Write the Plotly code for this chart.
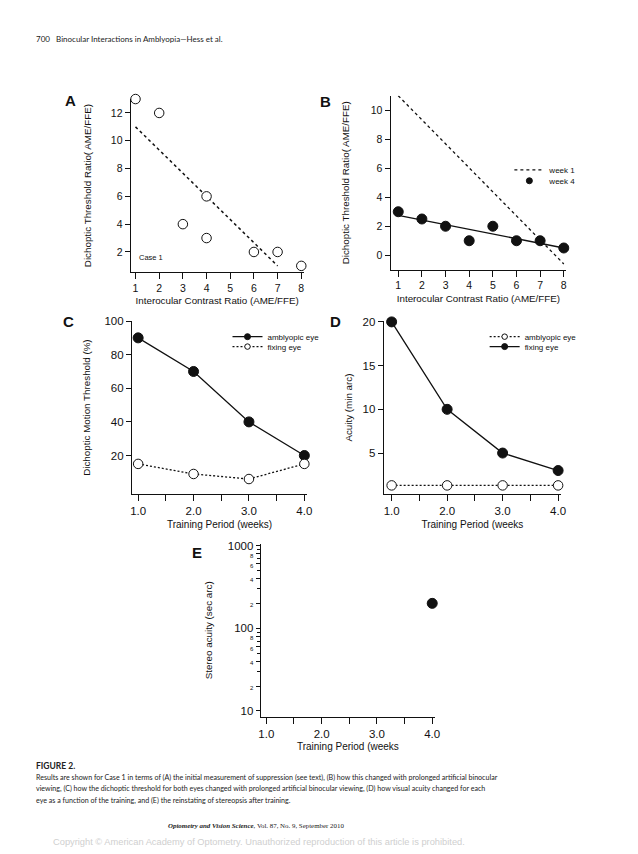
import plotly.graph_objects as go

W, H = 638, 854

# ---------------- data ----------------
# Panel A: initial measurement of suppression (Case 1)
a_ratio = [1, 2, 3, 4, 4, 6, 7, 8]
a_threshold = [13, 12, 4, 6, 3, 2, 2, 1]
a_fit_x = [1, 7]
a_fit_y = [11, 1]

# Panel B: after prolonged binocular viewing
b_ratio = [1, 2, 3, 4, 5, 6, 7, 8]
b_week4 = [3, 2.5, 2, 1, 2, 1, 1, 0.5]
b_week1_x = [1, 8]
b_week1_y = [11, -0.6]
b_fit_x = [1, 8]
b_fit_y = [2.75, 0.5]

# Panel C: dichoptic motion threshold (%)
weeks = [1, 2, 3, 4]
c_amblyopic = [90, 70, 40, 20]
c_fixing = [15, 9, 6, 15]

# Panel D: acuity (min arc)
d_amblyopic = [1.3, 1.3, 1.3, 1.3]
d_fixing = [20, 10, 5, 3]

# Panel E: stereo acuity (sec arc)
e_weeks = [4]
e_stereo = [200]

ratio_ticks = [1, 2, 3, 4, 5, 6, 7, 8]
week_ticks = [1, 2, 3, 4]
e_tickvals = [10, 20, 40, 60, 80, 100, 200, 400, 600, 800, 1000]
e_ticklabels = ["10", "2", "4", "6", "8", "100", "2", "4", "6", "8", "1000"]
e_minor = [30, 50, 70, 90, 300, 500, 700, 900]

# ---------------- helpers ----------------
FONT = "Liberation Sans, Arial, sans-serif"
INK = "#111111"


def dx(left, right):
    return [left / W, right / W]


def dy(top, bottom):
    return [1 - bottom / H, 1 - top / H]


def axis(tick_size=10.5, title_size=9.8, **kw):
    base = dict(
        showline=True, linecolor=INK, linewidth=1.3,
        ticks="outside", ticklen=5, tickwidth=1.2, tickcolor=INK,
        showgrid=False, zeroline=False,
        tickfont=dict(family=FONT, size=tick_size, color=INK),
        title_font=dict(family=FONT, size=title_size, color=INK),
    )
    base.update(kw)
    return base


open_marker = dict(symbol="circle", size=9.5, color="white", line=dict(color=INK, width=1))
filled_marker = dict(symbol="circle", size=10, color=INK, line=dict(color=INK, width=1))
leg_open = dict(symbol="circle", size=5.5, color="white", line=dict(color=INK, width=1))
leg_filled = dict(symbol="circle", size=6, color=INK, line=dict(color=INK, width=1))

fig = go.Figure()

# ---- Panel A ----
fig.add_trace(go.Scatter(x=a_fit_x, y=a_fit_y, mode="lines", xaxis="x", yaxis="y",
                         line=dict(color=INK, width=1.5, dash="3px,3px"), showlegend=False))
fig.add_trace(go.Scatter(x=a_ratio, y=a_threshold, mode="markers", xaxis="x", yaxis="y",
                         marker=open_marker, showlegend=False, cliponaxis=False))

# ---- Panel B ----
fig.add_trace(go.Scatter(x=b_week1_x, y=b_week1_y, mode="lines", xaxis="x2", yaxis="y2",
                         name="week 1", line=dict(color=INK, width=1.3, dash="3px,3px"),
                         legend="legend"))
fig.add_trace(go.Scatter(x=b_fit_x, y=b_fit_y, mode="lines", xaxis="x2", yaxis="y2",
                         line=dict(color=INK, width=1.4), showlegend=False))
fig.add_trace(go.Scatter(x=b_ratio, y=b_week4, mode="markers", xaxis="x2", yaxis="y2",
                         marker=filled_marker, showlegend=False, cliponaxis=False))
fig.add_trace(go.Scatter(x=[None], y=[None], mode="markers", xaxis="x2", yaxis="y2",
                         name="week 4", marker=leg_filled, legend="legend2"))

# ---- Panel C ----
fig.add_trace(go.Scatter(x=weeks, y=c_amblyopic, mode="lines+markers", xaxis="x3", yaxis="y3",
                         marker=filled_marker, line=dict(color=INK, width=1.3),
                         showlegend=False, cliponaxis=False))
fig.add_trace(go.Scatter(x=weeks, y=c_fixing, mode="lines+markers", xaxis="x3", yaxis="y3",
                         marker=open_marker, line=dict(color=INK, width=1.3, dash="2px,2px"),
                         showlegend=False, cliponaxis=False))
fig.add_trace(go.Scatter(x=[None], y=[None], mode="lines+markers", xaxis="x3", yaxis="y3",
                         name="amblyopic eye", marker=leg_filled, line=dict(color=INK, width=1.3),
                         legend="legend3"))
fig.add_trace(go.Scatter(x=[None], y=[None], mode="lines+markers", xaxis="x3", yaxis="y3",
                         name="fixing eye", marker=leg_open,
                         line=dict(color=INK, width=1.3, dash="2px,2px"), legend="legend4"))

# ---- Panel D ----
fig.add_trace(go.Scatter(x=weeks, y=d_amblyopic, mode="lines+markers", xaxis="x4", yaxis="y4",
                         marker=open_marker, line=dict(color=INK, width=1.3, dash="2px,2px"),
                         showlegend=False, cliponaxis=False))
fig.add_trace(go.Scatter(x=weeks, y=d_fixing, mode="lines+markers", xaxis="x4", yaxis="y4",
                         marker=filled_marker, line=dict(color=INK, width=1.3),
                         showlegend=False, cliponaxis=False))
fig.add_trace(go.Scatter(x=[None], y=[None], mode="lines+markers", xaxis="x4", yaxis="y4",
                         name="amblyopic eye", marker=leg_open,
                         line=dict(color=INK, width=1.3, dash="2px,2px"), legend="legend5"))
fig.add_trace(go.Scatter(x=[None], y=[None], mode="lines+markers", xaxis="x4", yaxis="y4",
                         name="fixing eye", marker=leg_filled, line=dict(color=INK, width=1.3),
                         legend="legend6"))

# ---- Panel E ----
fig.add_trace(go.Scatter(x=e_weeks, y=e_stereo, mode="markers", xaxis="x5", yaxis="y5",
                         marker=filled_marker, showlegend=False, cliponaxis=False))

ratio_title = "Interocular Contrast Ratio (AME/FFE)"
dt_title = "Dichoptic Threshold Ratio( AME/FFE)"

legend_common = dict(font=dict(family=FONT, size=8, color=INK), bgcolor="rgba(0,0,0,0)",
                     borderwidth=0, itemwidth=30, tracegroupgap=0,
                     xanchor="left", yanchor="middle", xref="paper", yref="paper")


def leg(text_x, center_y):
    # position a one-item legend so its text starts at text_x and is centred at center_y (page px)
    return dict(legend_common, x=(text_x - 37) / W, y=1 - center_y / H)


minor_week = dict(dtick=0.5, tick0=1, ticks="outside", ticklen=6, tickwidth=1.2, tickcolor=INK)
small = '<span style="font-size:6px">{}</span>'
e_ticktext = [t if t in ("10", "100", "1000") else small.format(t) for t in e_ticklabels]

fig.update_layout(
    width=W, height=H,
    margin=dict(l=0, r=0, t=0, b=0),
    paper_bgcolor="white", plot_bgcolor="white",
    font=dict(family=FONT, color=INK),
    # A
    xaxis=axis(domain=dx(130.2, 305), range=[0.8, 8.1], anchor="y",
               tickvals=ratio_ticks, ticklen=6,
               title=dict(text=ratio_title, standoff=4)),
    yaxis=axis(domain=dy(93.7, 268), range=[0.55, 13], anchor="x",
               tickvals=[2, 4, 6, 8, 10, 12],
               title=dict(text=dt_title, standoff=17)),
    # B
    xaxis2=axis(domain=dx(393.0, 570.4), range=[0.68, 8.1], anchor="y2",
                tickvals=ratio_ticks, ticklen=6,
                title=dict(text=ratio_title, standoff=4)),
    yaxis2=axis(domain=dy(90.4, 265.6), range=[-1, 11], anchor="x2",
                tickvals=[0, 2, 4, 6, 8, 10],
                title=dict(text=dt_title, standoff=19)),
    # C
    xaxis3=axis(tick_size=11.5, title_size=10, domain=dx(131.5, 308.5), range=[0.89, 4.05],
                anchor="y3", tickvals=week_ticks, tickformat=".1f", ticklen=6, minor=minor_week,
                title=dict(text="Training Period (weeks)", standoff=4)),
    yaxis3=axis(tick_size=11.5, domain=dy(317.3, 491.6), range=[-3, 100], anchor="x3",
                tickvals=[20, 40, 60, 80, 100],
                title=dict(text="Dichoptic Motion Threshold (%)", standoff=11)),
    # D
    xaxis4=axis(tick_size=11.5, title_size=10, domain=dx(386.1, 565.1), range=[0.86, 4.05],
                anchor="y4", tickvals=week_ticks, tickformat=".1f", ticklen=6, minor=minor_week,
                title=dict(text="Training Period (weeks", standoff=4)),
    yaxis4=axis(tick_size=11.5, domain=dy(317.25, 491.6), range=[0.3, 20.1], anchor="x4",
                tickvals=[5, 10, 15, 20],
                title=dict(text="Acuity (min arc)", standoff=8)),
    # E
    xaxis5=axis(tick_size=11.5, title_size=10, domain=dx(261.7, 437.8), range=[0.9, 4.05],
                anchor="y5", tickvals=week_ticks, tickformat=".1f", ticklen=6, minor=minor_week,
                title=dict(text="Training Period (weeks", standoff=4)),
    yaxis5=axis(tick_size=11.5, domain=dy(541.7, 715.8), type="log", range=[0.93, 3.02], anchor="x5",
                tickvals=e_tickvals, ticktext=e_ticktext, ticklen=4,
                minor=dict(tickvals=e_minor, ticks="outside", ticklen=3, tickwidth=1.1, tickcolor=INK),
                title=dict(text="Stereo acuity (sec arc)", standoff=13)),
    legend=leg(550, 165),
    legend2=leg(550, 176),
    legend3=leg(265, 333),
    legend4=leg(265, 343),
    legend5=leg(525, 333),
    legend6=leg(525, 343),
)

ann = []
# panel letters
for letter, px, py in [("A", 69, 95), ("B", 327, 96), ("C", 67, 318), ("D", 337, 318), ("E", 197, 550)]:
    ann.append(dict(text=f"<b>{letter}</b>", x=px / W, y=1 - py / H, xref="paper", yref="paper",
                    xanchor="center", yanchor="middle", showarrow=False,
                    font=dict(family=FONT, size=15, color=INK)))
# Case label in panel A
ann.append(dict(text="Case 1", x=1.08, y=1.62, xref="x", yref="y", xanchor="left", yanchor="middle",
                showarrow=False, font=dict(family=FONT, size=7.5, color=INK)))
# page header
ann.append(dict(text="700&nbsp;&nbsp;&nbsp;Binocular Interactions in Amblyopia\u2014Hess et al.",
                x=32 / W, y=1 - 33 / H,
                xref="paper", yref="paper", xanchor="left", yanchor="middle", showarrow=False,
                font=dict(family="Lato, sans-serif", size=8.0, color="#222")))
# caption
ann.append(dict(text="<b>FIGURE 2.</b>", x=32 / W, y=1 - 765 / H, xref="paper", yref="paper",
                xanchor="left", yanchor="middle", showarrow=False,
                font=dict(family="Lato, sans-serif", size=8.5, color="#222")))
caption_lines = [
    "Results are shown for Case 1 in terms of (A) the initial measurement of suppression (see text), (B) how this changed with prolonged artificial binocular",
    "viewing, (C) how the dichoptic threshold for both eyes changed with prolonged artificial binocular viewing, (D) how visual acuity changed for each",
    "eye as a function of the training, and (E) the reinstating of stereopsis after training.",
]
for i, line in enumerate(caption_lines):
    ann.append(dict(text=line, x=32 / W, y=1 - (776.7 + 11.7 * i) / H, xref="paper", yref="paper",
                    xanchor="left", yanchor="middle", showarrow=False,
                    font=dict(family="Lato, sans-serif", size=7.1, color="#222")))
ann.append(dict(text="<b><i>Optometry and Vision Science</i></b>, Vol. 87, No. 9, September 2010",
                x=257 / W, y=1 - 825 / H, xref="paper", yref="paper", xanchor="center", yanchor="middle",
                showarrow=False, font=dict(family="Liberation Serif, serif", size=6.9, color="#222")))
ann.append(dict(text="Copyright \u00a9 American Academy of Optometry. Unauthorized reproduction of this article is prohibited.",
                x=260 / W, y=1 - 842 / H, xref="paper", yref="paper", xanchor="center", yanchor="middle",
                showarrow=False, font=dict(family=FONT, size=9.3, color="#cfcfcf")))
fig.update_layout(annotations=ann)

fig.write_html("out.html", config={"displayModeBar": False},
               post_script="document.body.style.margin='0px';")
